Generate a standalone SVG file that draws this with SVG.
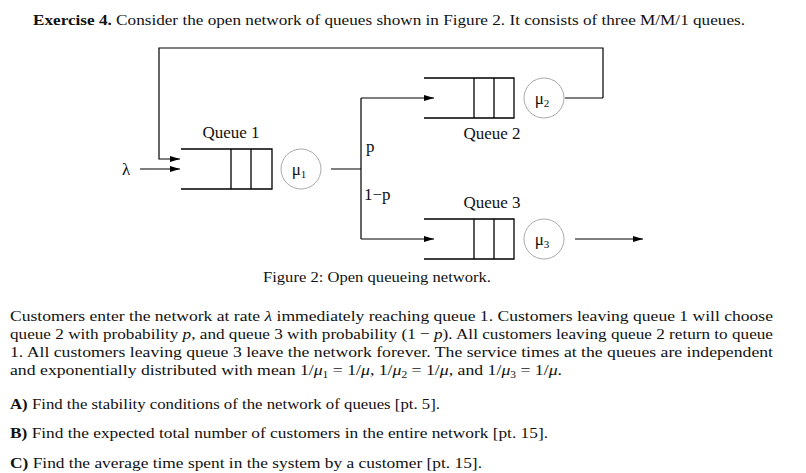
<svg xmlns="http://www.w3.org/2000/svg" width="806" height="473" viewBox="0 0 806 473">
<style>
text{font-family:"Liberation Serif","DejaVu Serif",serif;font-size:15.5px;fill:#111}
.d{font-size:17px}
.q{fill:none;stroke:#000;stroke-width:1.3}
.c{fill:#fff;stroke:#aaa;stroke-width:1}
.l{fill:none;stroke:#000;stroke-width:1.2}
.b{font-weight:bold}
.i{font-style:italic}
</style>
<defs><marker id="a" markerWidth="10" markerHeight="6" refX="10" refY="3" orient="auto" markerUnits="userSpaceOnUse"><path d="M0,0 L10,3 L0,6 z" fill="#000"/></marker></defs>
<rect width="806" height="473" fill="#fff"/>
<text x="33" y="25" textLength="712" lengthAdjust="spacingAndGlyphs"><tspan class="b">Exercise 4.</tspan> Consider the open network of queues shown in Figure 2. It consists of three M/M/1 queues.</text>
<g id="queue1"><path class="q" d="M181,149 H272 V189 H181 M231,149 V189 M251,149 V189"/><text class="d" x="231" y="138" text-anchor="middle">Queue 1</text></g>
<g id="mu1"><circle class="c" cx="301" cy="169" r="20"/><text class="d" x="299" y="175" text-anchor="middle">μ<tspan font-size="11" dy="3">1</tspan></text></g>
<g id="queue2"><path class="q" d="M424,78 H514 V118 H424 M474,78 V118 M494,78 V118"/><text class="d" x="492" y="139" text-anchor="middle">Queue 2</text></g>
<g id="mu2"><circle class="c" cx="544" cy="98" r="20"/><text class="d" x="542" y="104" text-anchor="middle">μ<tspan font-size="11" dy="3">2</tspan></text></g>
<g id="queue3"><path class="q" d="M424,219 H514 V259 H424 M474,219 V259 M494,219 V259"/><text class="d" x="492" y="208" text-anchor="middle">Queue 3</text></g>
<g id="mu3"><circle class="c" cx="544" cy="239" r="20"/><text class="d" x="542" y="245" text-anchor="middle">μ<tspan font-size="11" dy="3">3</tspan></text></g>
<g id="connectors">
<path class="l" d="M140,169 H180" marker-end="url(#a)"/>
<path class="l" d="M603,98 H565 M603,98 V48 H159 V159 H180" marker-end="url(#a)"/>
<path class="l" d="M331,169 H361 M361,98 V239"/>
<path class="l" d="M361,98 H434" marker-end="url(#a)"/>
<path class="l" d="M361,239 H434" marker-end="url(#a)"/>
<path class="l" d="M575,239 H643" marker-end="url(#a)"/>
</g>
<text class="d" x="122" y="175">λ</text>
<text class="d" x="366" y="152">p</text>
<text class="d" x="364" y="200">1−p</text>
<text x="263" y="282" textLength="228" lengthAdjust="spacingAndGlyphs">Figure 2: Open queueing network.</text>
<text x="10" y="321" textLength="763" lengthAdjust="spacingAndGlyphs">Customers enter the network at rate <tspan class="i">λ</tspan> immediately reaching queue 1. Customers leaving queue 1 will choose</text>
<text x="10" y="339" textLength="763" lengthAdjust="spacingAndGlyphs">queue 2 with probability <tspan class="i">p</tspan>, and queue 3 with probability (1 − <tspan class="i">p</tspan>). All customers leaving queue 2 return to queue</text>
<text x="10" y="357" textLength="763" lengthAdjust="spacingAndGlyphs">1. All customers leaving queue 3 leave the network forever. The service times at the queues are independent</text>
<text x="10" y="375" textLength="552" lengthAdjust="spacingAndGlyphs">and exponentially distributed with mean 1/<tspan class="i">μ</tspan><tspan font-size="10" dy="3">1</tspan><tspan dy="-3"> = 1/</tspan><tspan class="i">μ</tspan>, 1/<tspan class="i">μ</tspan><tspan font-size="10" dy="3">2</tspan><tspan dy="-3"> = 1/</tspan><tspan class="i">μ</tspan>, and 1/<tspan class="i">μ</tspan><tspan font-size="10" dy="3">3</tspan><tspan dy="-3"> = 1/</tspan><tspan class="i">μ</tspan>.</text>
<text x="10" y="409" textLength="430" lengthAdjust="spacingAndGlyphs"><tspan class="b">A)</tspan> Find the stability conditions of the network of queues [pt. 5].</text>
<text x="10" y="438" textLength="538" lengthAdjust="spacingAndGlyphs"><tspan class="b">B)</tspan> Find the expected total number of customers in the entire network [pt.  15].</text>
<text x="10" y="468" textLength="472" lengthAdjust="spacingAndGlyphs"><tspan class="b">C)</tspan> Find the average time spent in the system by a customer [pt.  15].</text>
</svg>
